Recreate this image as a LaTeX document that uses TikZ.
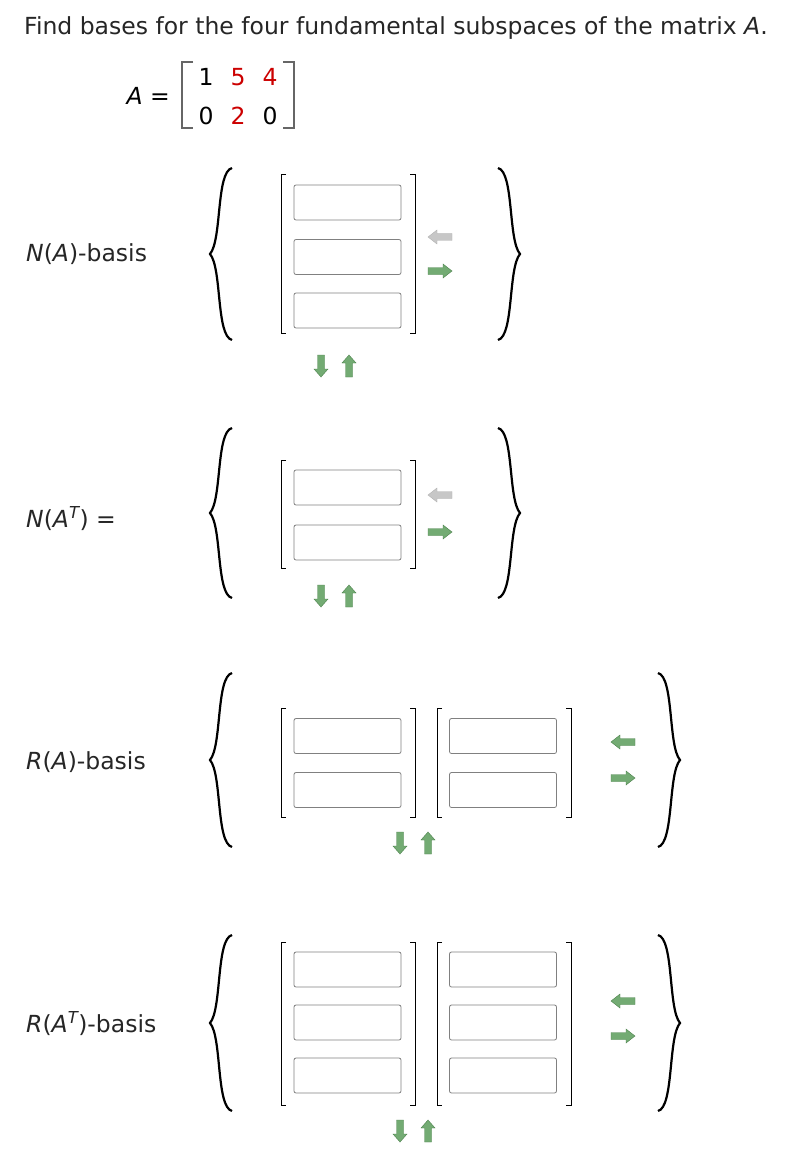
\documentclass[tikz,border=0pt]{standalone}
\usepackage{fontspec}
\setmainfont{DejaVu Sans}
\newcommand\myLbr[3]{\draw[brc] (#1+22,#2) .. controls (#1+6,#2+4) and (#1+12,#3-14) .. (#1,#3) .. controls (#1+12,#3+14) and (#1+6,2*#3-#2-4) .. (#1+22,2*#3-#2);}
\newcommand\myRbr[3]{\draw[brc] (#1-22,#2) .. controls (#1-6,#2+4) and (#1-12,#3-14) .. (#1,#3) .. controls (#1-12,#3+14) and (#1-6,2*#3-#2-4) .. (#1-22,2*#3-#2);}
\newcommand\myBrk[3]{\draw[brk] (#1+5,#2)--(#1,#2)--(#1,#3)--(#1+5,#3); \draw[brk] (#1+129,#2)--(#1+134,#2)--(#1+134,#3)--(#1+129,#3);}
\begin{document}
\begin{tikzpicture}[x=1pt,y=-1pt,
  lbl/.style={anchor=west,inner sep=0pt,font=\fontsize{23.5}{26}\selectfont,text=black!85},
  ent/.style={inner sep=0pt,font=\fontsize{23.5}{26}\selectfont},
  ansbox/.style={draw=black!50,line width=0.8pt,rounded corners=2pt,minimum width=107,minimum height=35,inner sep=0},
  brk/.style={draw=black,line width=1pt},
  brc/.style={draw=black,line width=2.2pt},
  garr/.style={fill=green!40!black!55!white,draw=green!30!black!70,line width=0.4pt},
  gyarr/.style={fill=black!22,draw=black!30,line width=0.4pt},
  rarr/.pic={\path[pic actions] (-12,-3.5)--(3,-3.5)--(3,-7)--(12,0)--(3,7)--(3,3.5)--(-12,3.5)--cycle;},
  larr/.pic={\path[pic actions] (12,-3.5)--(-3,-3.5)--(-3,-7)--(-12,0)--(-3,7)--(-3,3.5)--(12,3.5)--cycle;},
  darr/.pic={\path[pic actions] (-3.5,-11)--(3.5,-11)--(3.5,3)--(7,3)--(0,11)--(-7,3)--(-3.5,3)--cycle;},
  uarr/.pic={\path[pic actions] (-3.5,11)--(3.5,11)--(3.5,-3)--(7,-3)--(0,-11)--(-7,-3)--(-3.5,-3)--cycle;}
]
\fill[white] (0,0) rectangle (802,1166);
\node[lbl] (title) at (24,28) {Find bases for the four fundamental subspaces of the matrix \textit{A}.};
\node[ent,anchor=east] (aeq) at (170,96) {\textit{A} =};
\draw[brk,black!60,line width=1.2pt] (193,62)--(182,62)--(182,128)--(193,128);
\draw[brk,black!60,line width=1.2pt] (283,62)--(294,62)--(294,128)--(283,128);
\node[ent] (m11) at (206,77) {1};
\node[ent,text=red!80!black] (m12) at (238,77) {5};
\node[ent,text=red!80!black] (m13) at (270,77) {4};
\node[ent] (m21) at (206,116) {0};
\node[ent,text=red!80!black] (m22) at (238,116) {2};
\node[ent] (m23) at (270,116) {0};
\node[lbl] (l1) at (26,254) {\textit{N}(\textit{A})-basis};
\myLbr{210}{168}{254}\myRbr{520}{168}{254}
\myBrk{281}{175}{333}
\node[ansbox] (b11) at (347.5,202.5) {};
\node[ansbox] (b12) at (347.5,257) {};
\node[ansbox] (b13) at (347.5,310.5) {};
\pic[gyarr] at (440,237) {larr}; \pic[garr] at (440,271) {rarr};
\pic[garr] at (321,366) {darr}; \pic[garr] at (349,366) {uarr};
\node[lbl] (l2) at (26,519) {\textit{N}(\textit{A}$^{\mathit{T}}$) =};
\myLbr{210}{428}{513}\myRbr{520}{428}{513}
\myBrk{281}{460}{568}
\node[ansbox] (b21) at (347.5,487.5) {};
\node[ansbox] (b22) at (347.5,542.5) {};
\pic[gyarr] at (440,495) {larr}; \pic[garr] at (440,532) {rarr};
\pic[garr] at (321,596) {darr}; \pic[garr] at (349,596) {uarr};
\node[lbl] (l3) at (26,762) {\textit{R}(\textit{A})-basis};
\myLbr{210}{673}{760}\myRbr{680}{673}{760}
\myBrk{281}{708}{817}\myBrk{437}{708}{817}
\node[ansbox] (b31) at (347.5,736) {};
\node[ansbox] (b32) at (347.5,790) {};
\node[ansbox] (b33) at (503,736) {};
\node[ansbox] (b34) at (503,790) {};
\pic[garr] at (623,742) {larr}; \pic[garr] at (623,778) {rarr};
\pic[garr] at (400,843) {darr}; \pic[garr] at (428,843) {uarr};
\node[lbl] (l4) at (26,1024) {\textit{R}(\textit{A}$^{\mathit{T}}$)-basis};
\myLbr{210}{935}{1023}\myRbr{680}{935}{1023}
\myBrk{281}{942}{1105}\myBrk{437}{942}{1105}
\node[ansbox] (b41) at (347.5,969.5) {};
\node[ansbox] (b42) at (347.5,1022.5) {};
\node[ansbox] (b43) at (347.5,1075.5) {};
\node[ansbox] (b44) at (503,969.5) {};
\node[ansbox] (b45) at (503,1022.5) {};
\node[ansbox] (b46) at (503,1075.5) {};
\pic[garr] at (623,1001) {larr}; \pic[garr] at (623,1036) {rarr};
\pic[garr] at (400,1131) {darr}; \pic[garr] at (428,1131) {uarr};
\end{tikzpicture}
\end{document}
